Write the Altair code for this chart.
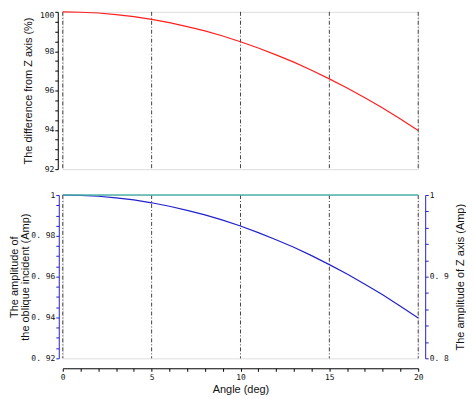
import altair as alt
import pandas as pd

# ---- data ----
angle = list(range(21))
diff_pct = [100.0, 99.98, 99.94, 99.86, 99.76, 99.62, 99.45, 99.25, 99.03, 98.77,
            98.48, 98.16, 97.81, 97.44, 97.03, 96.59, 96.13, 95.63, 95.11, 94.55, 93.97]
amp_oblique = [1.0, 0.9998, 0.9994, 0.9986, 0.9976, 0.9962, 0.9945, 0.9925, 0.9903, 0.9877,
               0.9848, 0.9816, 0.9781, 0.9744, 0.9703, 0.9659, 0.9613, 0.9563, 0.9511, 0.9455, 0.9397]
amp_z = [1.0] * 21
guide_angles = [0, 5, 10, 15, 20]

top_ticks = [92 + 0.5 * i for i in range(17)]
left_ticks = [0.92 + 0.005 * i for i in range(17)]
right_ticks = [0.8 + 0.02 * i for i in range(11)]

df = pd.DataFrame({"angle": angle, "diff": diff_pct, "amp": amp_oblique, "ampz": amp_z})
guides = pd.DataFrame({"angle": guide_angles})

W = 357
FONT = "Liberation Sans"
MONO = "DejaVu Sans Mono"
BLUE = "#2222cc"
TXT = "#111111"

xscale = alt.Scale(domain=[0, 20], nice=False, zero=False)

xaxis = alt.Axis(title="Angle (deg)", values=angle,
                 labelExpr="datum.value % 5 == 0 ? datum.value : ''",
                 offset=10, domainColor="black", tickColor="black",
                 titlePadding=2, labelPadding=2, grid=False, tickSize=3,
                 labelFont=MONO, labelFontSize=8, labelColor="#111111",
                 titleFont=FONT, titleFontSize=11, titleFontWeight="normal",
                 titleColor="#111111", labelOverlap=False, labelFlush=False)

def guide_layer(with_axis=False):
    x = alt.X("angle:Q", scale=xscale, axis=xaxis) if with_axis else alt.X("angle:Q", scale=xscale, axis=None)
    return alt.Chart(guides).mark_rule(
        color="#444444", strokeWidth=1, strokeDash=[4, 2, 1, 2]
    ).encode(x=x)

common = dict(grid=False, tickSize=3, labelFont=MONO, labelFontSize=8,
              labelColor=TXT, titleFont=FONT, titleFontSize=11,
              titleFontWeight="normal", titleColor=TXT, labelOverlap=False)

# ---- top panel ----
top_line = alt.Chart(df).mark_line(color="#ff1f1f", strokeWidth=1.2).encode(
    x=alt.X("angle:Q", scale=xscale, axis=None),
    y=alt.Y("diff:Q", scale=alt.Scale(domain=[92, 100], nice=False, zero=False),
            axis=alt.Axis(title="The difference from Z axis (%)", values=top_ticks,
                          labelExpr="datum.value % 2 == 0 ? datum.value : ''",
                          labelBaseline={"condition": {"test": "datum.value >= 100", "value": "top"},
                                         "value": "middle"},
                          offset=5, domainColor="black", tickColor="black",
                          labelPadding=1, titlePadding=6, **common)),
)
top = alt.layer(guide_layer(), top_line).properties(width=W, height=158)

# ---- bottom panel ----
blue_line = alt.Chart(df).mark_line(color=BLUE, strokeWidth=1.2).encode(
    x=alt.X("angle:Q", scale=xscale, axis=xaxis),
    y=alt.Y("amp:Q", scale=alt.Scale(domain=[0.92, 1.0], nice=False, zero=False),
            axis=alt.Axis(title=["The amplitude of", "the oblique incident (Amp)"],
                          values=left_ticks,
                          labelExpr="datum.value > 0.999 ? '1' : (round(datum.value*1000) % 20 == 0 ? replace(format(datum.value, '.2f'), '.', '. ') : '')",
                          offset=4, domainColor=BLUE, tickColor=BLUE,
                          labelPadding=1, titlePadding=0, titleLineHeight=11, **common)),
)
teal_line = alt.Chart(df).mark_line(color="#4fb3aa", strokeWidth=1.4).encode(
    x=alt.X("angle:Q", scale=xscale, axis=xaxis),
    y=alt.Y("ampz:Q", scale=alt.Scale(domain=[0.8, 1.0], nice=False, zero=False),
            axis=alt.Axis(title="The amplitude of Z axis (Amp)", orient="right",
                          values=right_ticks,
                          labelExpr="datum.value > 0.999 ? '1' : (round(datum.value*100) % 10 == 0 ? replace(format(datum.value, '.1f'), '.', '. ') : '')",
                          offset=7, domainColor=BLUE, tickColor=BLUE,
                          labelPadding=1, titleAngle=270, titleBaseline="top",
                          titlePadding=6, **common)),
)
bottom = alt.layer(guide_layer(True), blue_line, teal_line).resolve_scale(
    y="independent").properties(width=W, height=164)

chart = alt.vconcat(top, bottom, spacing=16).properties(
    padding={"left": 0, "right": 0, "top": 0, "bottom": 0}
).configure_view(stroke=None).configure_axis(
    labelOverlap=False
).configure(background="white")

chart.save("out.html", embed_options={"renderer": "svg", "actions": False})
